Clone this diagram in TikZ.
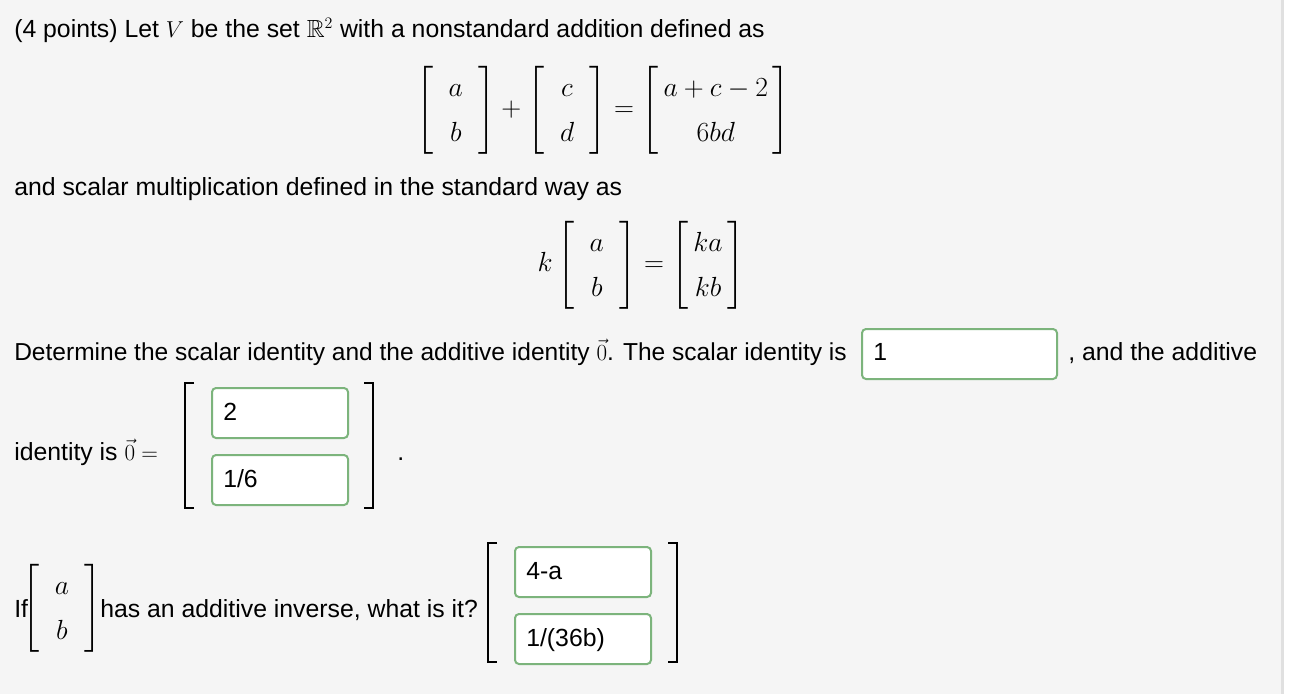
\documentclass[tikz,border=0pt]{standalone}
\usepackage{amsmath,amssymb}
\usepackage{fontspec}
\setmainfont{Liberation Sans}
\definecolor{bgr}{RGB}{124,180,124}
\newcommand{\pd}[1]{\;\;#1\;\;}
\begin{document}
\begin{tikzpicture}[x=0.75pt,y=-0.75pt,
  txt/.style={anchor=base west,inner sep=0pt,font=\fontsize{18.6}{22}\selectfont},
  mth/.style={inner sep=0pt,font=\fontsize{22}{27}\selectfont\renewcommand{\arraystretch}{1.25}},
  ibox/.style={draw=bgr,line width=1.5pt,fill=white,rounded corners=3pt,anchor=north west,inner sep=0pt,minimum width=136*0.75pt,minimum height=50*0.75pt},
  brk/.style={line width=1.3pt}]
\fill[black!4] (0,0) rectangle (1281,694);
\fill[black!12] (1281,0) rectangle (1284,694);
\fill[white] (1284,0) rectangle (1291,694);
\useasboundingbox (0,0) rectangle (1291,694);

\node[txt] (l1) at (14,37) {(4 points) Let $V$ be the set $\mathbb{R}^2$ with a nonstandard addition defined as};
\node[mth] (e1) at (603,110) {$\begin{bmatrix} \pd{a}\\ \pd{b}\end{bmatrix}+\begin{bmatrix} \pd{c}\\ \pd{d}\end{bmatrix}=\begin{bmatrix} \,a+c-2\,\\ 6bd\end{bmatrix}$};
\node[txt] (l2) at (14,195) {and scalar multiplication defined in the standard way as};
\node[mth] (e2) at (641,265) {$k\begin{bmatrix} \pd{a}\\ \pd{b}\end{bmatrix}=\begin{bmatrix} \,ka\,\\ \,kb\,\end{bmatrix}$};
\node[txt,font=\fontsize{18.4}{22}\selectfont] (l3) at (14,360) {Determine the scalar identity and the additive identity $\vec{0}$. The scalar identity is};
\node[ibox,minimum width=195*0.75pt] (b1) at (861,328) {};
\node[txt] (t1) at (873,360) {1};
\node[txt] (l4) at (1068,360) {, and the additive};

\node[txt] (l5) at (14,460) {identity is $\vec{0}=$};
\draw[brk] (194,383) -- (185,383) -- (185,508) -- (194,508);
\draw[brk] (364,383) -- (373,383) -- (373,508) -- (364,508);
\node[ibox] (b2) at (211,387) {};
\node[ibox] (b3) at (211,454) {};
\node[txt] (t2) at (223,420) {2};
\node[txt] (t3) at (223,487) {1/6};
\node[txt] (dot) at (397,460) {.};

\node[txt] (l6) at (14,617) {If};
\node[mth] (m6) at (62,608) {$\begin{bmatrix} \pd{a}\\ \pd{b}\end{bmatrix}$};
\node[txt] (l7) at (100,617) {has an additive inverse, what is it?};
\draw[brk] (497,543) -- (488,543) -- (488,662) -- (497,662);
\draw[brk] (668,543) -- (677,543) -- (677,662) -- (668,662);
\node[ibox] (b4) at (514,546) {};
\node[ibox] (b5) at (514,613) {};
\node[txt] (t4) at (526,579) {4-a};
\node[txt] (t5) at (526,646) {1/(36b)};
\end{tikzpicture}
\end{document}
